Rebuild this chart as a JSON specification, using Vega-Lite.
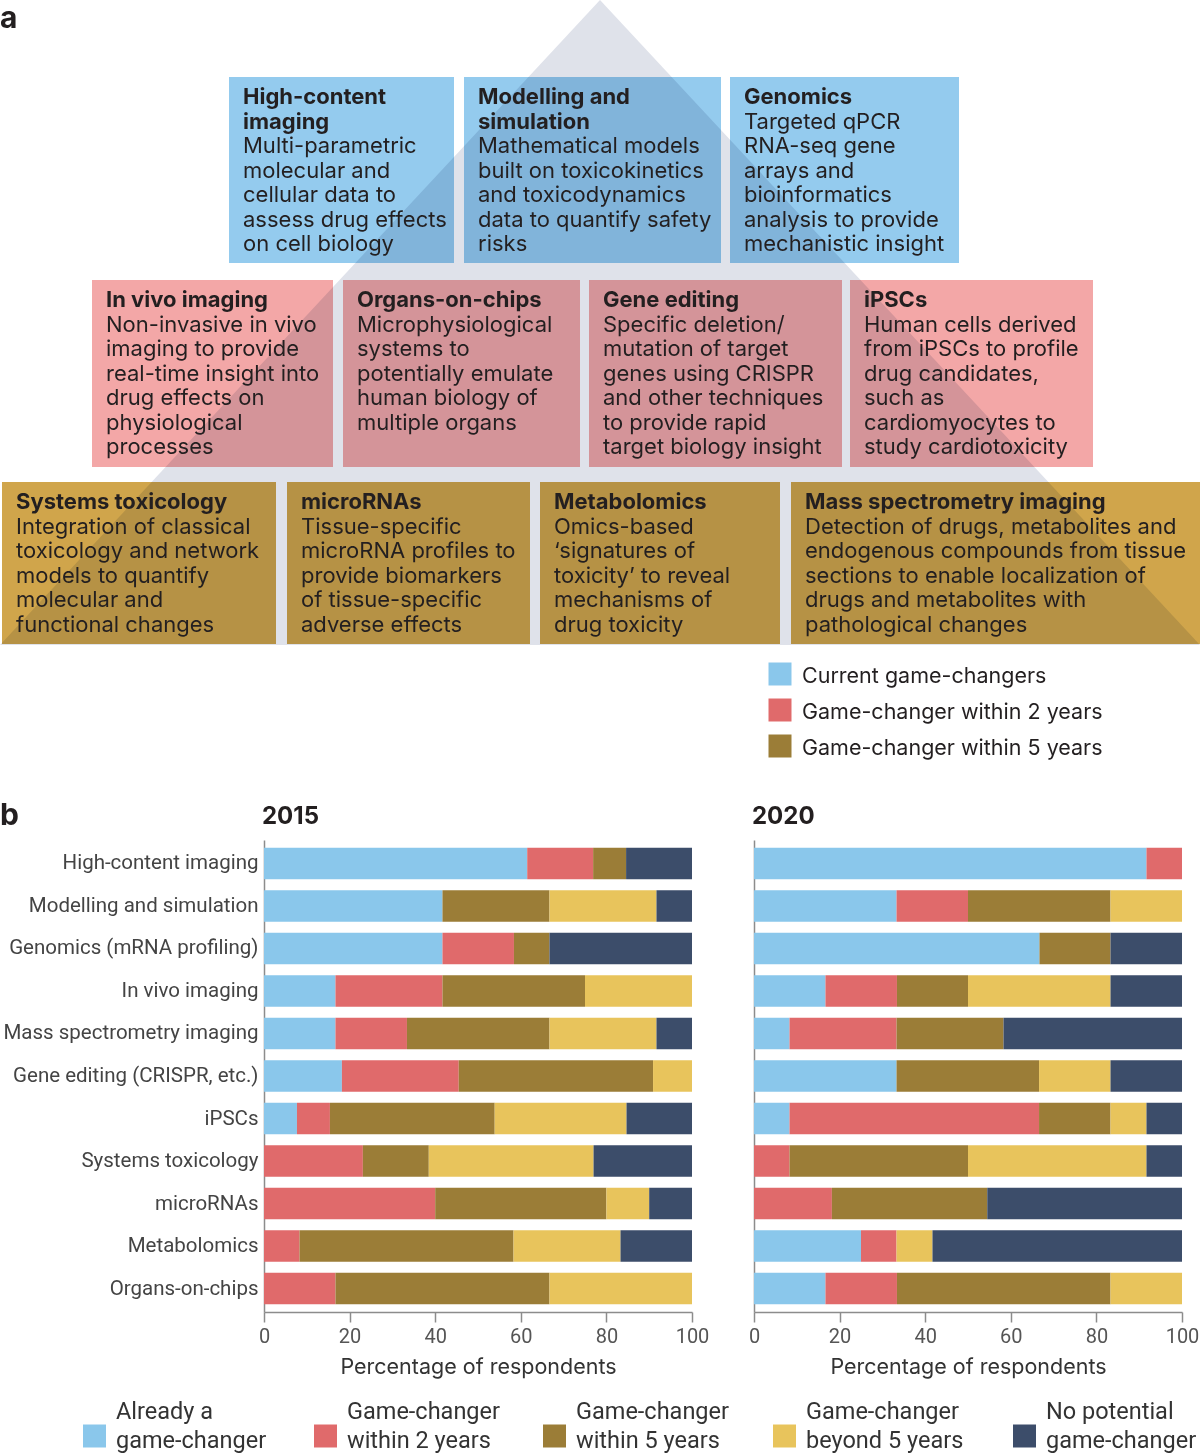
{
  "$schema": "https://vega.github.io/schema/vega-lite/v6.json",
  "padding": 0,
  "background": "white",
  "config": {
    "view": {"stroke": null},
    "font": "Inter",
    "axis": {"labelFont": "Roboto", "titleFont": "Inter"}
  },
  "datasets": {
    "triangle": [
      {"px": 0, "py": 645},
      {"px": 600, "py": 0},
      {"px": 1200, "py": 645}
    ],
    "boxes": [
      {"name": "High-content imaging", "tier": 1, "x0": 229, "x1": 454, "y0": 77, "y1": 263, "title": ["High-content", "imaging"], "body": ["Multi-parametric", "molecular and", "cellular data to", "assess drug effects", "on cell biology"]},
      {"name": "Modelling and simulation", "tier": 1, "x0": 464, "x1": 721, "y0": 77, "y1": 263, "title": ["Modelling and", "simulation"], "body": ["Mathematical models", "built on toxicokinetics", "and toxicodynamics", "data to quantify safety", "risks"]},
      {"name": "Genomics", "tier": 1, "x0": 730, "x1": 959, "y0": 77, "y1": 263, "title": ["Genomics"], "body": ["Targeted qPCR", "RNA-seq gene", "arrays and", "bioinformatics", "analysis to provide", "mechanistic insight"]},
      {"name": "In vivo imaging", "tier": 2, "x0": 92, "x1": 333, "y0": 280, "y1": 467, "title": ["In vivo imaging"], "body": ["Non-invasive in vivo", "imaging to provide", "real-time insight into", "drug effects on", "physiological", "processes"]},
      {"name": "Organs-on-chips", "tier": 2, "x0": 343, "x1": 580, "y0": 280, "y1": 467, "title": ["Organs-on-chips"], "body": ["Microphysiological", "systems to", "potentially emulate", "human biology of", "multiple organs"]},
      {"name": "Gene editing", "tier": 2, "x0": 589, "x1": 842, "y0": 280, "y1": 467, "title": ["Gene editing"], "body": ["Specific deletion/", "mutation of target", "genes using CRISPR", "and other techniques", "to provide rapid", "target biology insight"]},
      {"name": "iPSCs", "tier": 2, "x0": 850, "x1": 1093, "y0": 280, "y1": 467, "title": ["iPSCs"], "body": ["Human cells derived", "from iPSCs to profile", "drug candidates,", "such as", "cardiomyocytes to", "study cardiotoxicity"]},
      {"name": "Systems toxicology", "tier": 3, "x0": 2, "x1": 276, "y0": 482, "y1": 644, "title": ["Systems toxicology"], "body": ["Integration of classical", "toxicology and network", "models to quantify", "molecular and", "functional changes"]},
      {"name": "microRNAs", "tier": 3, "x0": 287, "x1": 530, "y0": 482, "y1": 644, "title": ["microRNAs"], "body": ["Tissue-specific", "microRNA profiles to", "provide biomarkers", "of tissue-specific", "adverse effects"]},
      {"name": "Metabolomics", "tier": 3, "x0": 540, "x1": 780, "y0": 482, "y1": 644, "title": ["Metabolomics"], "body": ["Omics-based", "‘signatures of", "toxicity’ to reveal", "mechanisms of", "drug toxicity"]},
      {"name": "Mass spectrometry imaging", "tier": 3, "x0": 791, "x1": 1200, "y0": 482, "y1": 644, "title": ["Mass spectrometry imaging"], "body": ["Detection of drugs, metabolites and", "endogenous compounds from tissue", "sections to enable localization of", "drugs and metabolites with", "pathological changes"]}
    ],
    "tierKey": [
      {"key": "Current game-changers", "ky": 674},
      {"key": "Game-changer within 2 years", "ky": 710},
      {"key": "Game-changer within 5 years", "ky": 746}
    ],
    "panelLetters": [
      {"lab": "a", "lx": 0, "ly": 28},
      {"lab": "b", "lx": 0, "ly": 825}
    ],
    "years": [
      {"lab": "2015", "lx": 262, "ly": 824},
      {"lab": "2020", "lx": 752, "ly": 824}
    ],
    "y2015": [
      {"technology": "High-content imaging", "response": "Already a game-changer", "level": 1, "percent": 61.5},
      {"technology": "High-content imaging", "response": "Game-changer within 2 years", "level": 2, "percent": 15.4},
      {"technology": "High-content imaging", "response": "Game-changer within 5 years", "level": 3, "percent": 7.7},
      {"technology": "High-content imaging", "response": "No potential game-changer", "level": 5, "percent": 15.4},
      {"technology": "Modelling and simulation", "response": "Already a game-changer", "level": 1, "percent": 41.7},
      {"technology": "Modelling and simulation", "response": "Game-changer within 5 years", "level": 3, "percent": 25},
      {"technology": "Modelling and simulation", "response": "Game-changer beyond 5 years", "level": 4, "percent": 25},
      {"technology": "Modelling and simulation", "response": "No potential game-changer", "level": 5, "percent": 8.3},
      {"technology": "Genomics (mRNA profiling)", "response": "Already a game-changer", "level": 1, "percent": 41.7},
      {"technology": "Genomics (mRNA profiling)", "response": "Game-changer within 2 years", "level": 2, "percent": 16.7},
      {"technology": "Genomics (mRNA profiling)", "response": "Game-changer within 5 years", "level": 3, "percent": 8.3},
      {"technology": "Genomics (mRNA profiling)", "response": "No potential game-changer", "level": 5, "percent": 33.3},
      {"technology": "In vivo imaging", "response": "Already a game-changer", "level": 1, "percent": 16.7},
      {"technology": "In vivo imaging", "response": "Game-changer within 2 years", "level": 2, "percent": 25},
      {"technology": "In vivo imaging", "response": "Game-changer within 5 years", "level": 3, "percent": 33.3},
      {"technology": "In vivo imaging", "response": "Game-changer beyond 5 years", "level": 4, "percent": 25},
      {"technology": "Mass spectrometry imaging", "response": "Already a game-changer", "level": 1, "percent": 16.7},
      {"technology": "Mass spectrometry imaging", "response": "Game-changer within 2 years", "level": 2, "percent": 16.7},
      {"technology": "Mass spectrometry imaging", "response": "Game-changer within 5 years", "level": 3, "percent": 33.3},
      {"technology": "Mass spectrometry imaging", "response": "Game-changer beyond 5 years", "level": 4, "percent": 25},
      {"technology": "Mass spectrometry imaging", "response": "No potential game-changer", "level": 5, "percent": 8.3},
      {"technology": "Gene editing (CRISPR, etc.)", "response": "Already a game-changer", "level": 1, "percent": 18.2},
      {"technology": "Gene editing (CRISPR, etc.)", "response": "Game-changer within 2 years", "level": 2, "percent": 27.3},
      {"technology": "Gene editing (CRISPR, etc.)", "response": "Game-changer within 5 years", "level": 3, "percent": 45.4},
      {"technology": "Gene editing (CRISPR, etc.)", "response": "Game-changer beyond 5 years", "level": 4, "percent": 9.1},
      {"technology": "iPSCs", "response": "Already a game-changer", "level": 1, "percent": 7.7},
      {"technology": "iPSCs", "response": "Game-changer within 2 years", "level": 2, "percent": 7.7},
      {"technology": "iPSCs", "response": "Game-changer within 5 years", "level": 3, "percent": 38.5},
      {"technology": "iPSCs", "response": "Game-changer beyond 5 years", "level": 4, "percent": 30.8},
      {"technology": "iPSCs", "response": "No potential game-changer", "level": 5, "percent": 15.3},
      {"technology": "Systems toxicology", "response": "Game-changer within 2 years", "level": 2, "percent": 23.1},
      {"technology": "Systems toxicology", "response": "Game-changer within 5 years", "level": 3, "percent": 15.4},
      {"technology": "Systems toxicology", "response": "Game-changer beyond 5 years", "level": 4, "percent": 38.5},
      {"technology": "Systems toxicology", "response": "No potential game-changer", "level": 5, "percent": 23},
      {"technology": "microRNAs", "response": "Game-changer within 2 years", "level": 2, "percent": 40},
      {"technology": "microRNAs", "response": "Game-changer within 5 years", "level": 3, "percent": 40},
      {"technology": "microRNAs", "response": "Game-changer beyond 5 years", "level": 4, "percent": 10},
      {"technology": "microRNAs", "response": "No potential game-changer", "level": 5, "percent": 10},
      {"technology": "Metabolomics", "response": "Game-changer within 2 years", "level": 2, "percent": 8.3},
      {"technology": "Metabolomics", "response": "Game-changer within 5 years", "level": 3, "percent": 50},
      {"technology": "Metabolomics", "response": "Game-changer beyond 5 years", "level": 4, "percent": 25},
      {"technology": "Metabolomics", "response": "No potential game-changer", "level": 5, "percent": 16.7},
      {"technology": "Organs-on-chips", "response": "Game-changer within 2 years", "level": 2, "percent": 16.7},
      {"technology": "Organs-on-chips", "response": "Game-changer within 5 years", "level": 3, "percent": 50},
      {"technology": "Organs-on-chips", "response": "Game-changer beyond 5 years", "level": 4, "percent": 33.3}
    ],
    "y2020": [
      {"technology": "High-content imaging", "response": "Already a game-changer", "level": 1, "percent": 91.7},
      {"technology": "High-content imaging", "response": "Game-changer within 2 years", "level": 2, "percent": 8.3},
      {"technology": "Modelling and simulation", "response": "Already a game-changer", "level": 1, "percent": 33.3},
      {"technology": "Modelling and simulation", "response": "Game-changer within 2 years", "level": 2, "percent": 16.7},
      {"technology": "Modelling and simulation", "response": "Game-changer within 5 years", "level": 3, "percent": 33.3},
      {"technology": "Modelling and simulation", "response": "Game-changer beyond 5 years", "level": 4, "percent": 16.7},
      {"technology": "Genomics (mRNA profiling)", "response": "Already a game-changer", "level": 1, "percent": 66.7},
      {"technology": "Genomics (mRNA profiling)", "response": "Game-changer within 5 years", "level": 3, "percent": 16.6},
      {"technology": "Genomics (mRNA profiling)", "response": "No potential game-changer", "level": 5, "percent": 16.7},
      {"technology": "In vivo imaging", "response": "Already a game-changer", "level": 1, "percent": 16.7},
      {"technology": "In vivo imaging", "response": "Game-changer within 2 years", "level": 2, "percent": 16.7},
      {"technology": "In vivo imaging", "response": "Game-changer within 5 years", "level": 3, "percent": 16.6},
      {"technology": "In vivo imaging", "response": "Game-changer beyond 5 years", "level": 4, "percent": 33.3},
      {"technology": "In vivo imaging", "response": "No potential game-changer", "level": 5, "percent": 16.7},
      {"technology": "Mass spectrometry imaging", "response": "Already a game-changer", "level": 1, "percent": 8.3},
      {"technology": "Mass spectrometry imaging", "response": "Game-changer within 2 years", "level": 2, "percent": 25},
      {"technology": "Mass spectrometry imaging", "response": "Game-changer within 5 years", "level": 3, "percent": 25},
      {"technology": "Mass spectrometry imaging", "response": "No potential game-changer", "level": 5, "percent": 41.7},
      {"technology": "Gene editing (CRISPR, etc.)", "response": "Already a game-changer", "level": 1, "percent": 33.3},
      {"technology": "Gene editing (CRISPR, etc.)", "response": "Game-changer within 5 years", "level": 3, "percent": 33.3},
      {"technology": "Gene editing (CRISPR, etc.)", "response": "Game-changer beyond 5 years", "level": 4, "percent": 16.7},
      {"technology": "Gene editing (CRISPR, etc.)", "response": "No potential game-changer", "level": 5, "percent": 16.7},
      {"technology": "iPSCs", "response": "Already a game-changer", "level": 1, "percent": 8.3},
      {"technology": "iPSCs", "response": "Game-changer within 2 years", "level": 2, "percent": 58.3},
      {"technology": "iPSCs", "response": "Game-changer within 5 years", "level": 3, "percent": 16.7},
      {"technology": "iPSCs", "response": "Game-changer beyond 5 years", "level": 4, "percent": 8.4},
      {"technology": "iPSCs", "response": "No potential game-changer", "level": 5, "percent": 8.3},
      {"technology": "Systems toxicology", "response": "Game-changer within 2 years", "level": 2, "percent": 8.3},
      {"technology": "Systems toxicology", "response": "Game-changer within 5 years", "level": 3, "percent": 41.7},
      {"technology": "Systems toxicology", "response": "Game-changer beyond 5 years", "level": 4, "percent": 41.7},
      {"technology": "Systems toxicology", "response": "No potential game-changer", "level": 5, "percent": 8.3},
      {"technology": "microRNAs", "response": "Game-changer within 2 years", "level": 2, "percent": 18.2},
      {"technology": "microRNAs", "response": "Game-changer within 5 years", "level": 3, "percent": 36.3},
      {"technology": "microRNAs", "response": "No potential game-changer", "level": 5, "percent": 45.5},
      {"technology": "Metabolomics", "response": "Already a game-changer", "level": 1, "percent": 25},
      {"technology": "Metabolomics", "response": "Game-changer within 2 years", "level": 2, "percent": 8.3},
      {"technology": "Metabolomics", "response": "Game-changer beyond 5 years", "level": 4, "percent": 8.4},
      {"technology": "Metabolomics", "response": "No potential game-changer", "level": 5, "percent": 58.3},
      {"technology": "Organs-on-chips", "response": "Already a game-changer", "level": 1, "percent": 16.7},
      {"technology": "Organs-on-chips", "response": "Game-changer within 2 years", "level": 2, "percent": 16.7},
      {"technology": "Organs-on-chips", "response": "Game-changer within 5 years", "level": 3, "percent": 49.9},
      {"technology": "Organs-on-chips", "response": "Game-changer beyond 5 years", "level": 4, "percent": 16.7}
    ],
    "responseKey": [
      {"response": "Already a game-changer", "label": ["Already a", "game-changer"], "kx": 94.5},
      {"response": "Game-changer within 2 years", "label": ["Game-changer", "within 2 years"], "kx": 325.5},
      {"response": "Game-changer within 5 years", "label": ["Game-changer", "within 5 years"], "kx": 554.5},
      {"response": "Game-changer beyond 5 years", "label": ["Game-changer", "beyond 5 years"], "kx": 784.5},
      {"response": "No potential game-changer", "label": ["No potential", "game-changer"], "kx": 1024.5}
    ]
  },
  "vconcat": [
    {
      "width": 936,
      "height": 838,
      "resolve": {"scale": {"color": "independent"}},
      "layer": [
        {
          "data": {"name": "triangle"},
          "mark": {"type": "area", "color": "#DFE2EA", "interpolate": "linear"},
          "encoding": {
            "x": {"field": "px", "type": "quantitative", "scale": {"domain": [264, 1200], "nice": false, "zero": false}, "axis": null},
            "y": {"field": "py", "type": "quantitative", "scale": {"domain": [0, 838], "reverse": true, "nice": false, "zero": false}, "axis": null},
            "y2": {"datum": 645}
          }
        },
        {
          "data": {"name": "boxes"},
          "mark": {"type": "rect", "blend": "multiply"},
          "encoding": {
            "x": {"field": "x0", "type": "quantitative", "scale": {"domain": [264, 1200], "nice": false, "zero": false}, "axis": null},
            "x2": {"field": "x1"},
            "y": {"field": "y0", "type": "quantitative", "scale": {"domain": [0, 838], "reverse": true, "nice": false, "zero": false}, "axis": null},
            "y2": {"field": "y1"},
            "color": {"field": "tier", "type": "nominal", "scale": {"domain": [1, 2, 3], "range": ["#94CBEE", "#F3A7A7", "#D0A54B"]}, "legend": null}
          }
        },
        {
          "data": {"name": "boxes"},
          "mark": {"type": "text", "align": "left", "baseline": "top", "dx": 14, "dy": 10, "font": "Inter", "fontSize": 22, "fontWeight": "bold", "lineHeight": 24.5, "color": "#231F20"},
          "encoding": {
            "x": {"field": "x0", "type": "quantitative"},
            "y": {"field": "y0", "type": "quantitative"},
            "text": {"field": "title"}
          }
        },
        {
          "data": {"name": "boxes"},
          "transform": [{"filter": "length(datum.title) == 1"}],
          "mark": {"type": "text", "align": "left", "baseline": "top", "dx": 14, "dy": 34.5, "font": "Inter", "fontSize": 22, "lineHeight": 24.5, "color": "#231F20"},
          "encoding": {
            "x": {"field": "x0", "type": "quantitative"},
            "y": {"field": "y0", "type": "quantitative"},
            "text": {"field": "body"}
          }
        },
        {
          "data": {"name": "boxes"},
          "transform": [{"filter": "length(datum.title) == 2"}],
          "mark": {"type": "text", "align": "left", "baseline": "top", "dx": 14, "dy": 59, "font": "Inter", "fontSize": 22, "lineHeight": 24.5, "color": "#231F20"},
          "encoding": {
            "x": {"field": "x0", "type": "quantitative"},
            "y": {"field": "y0", "type": "quantitative"},
            "text": {"field": "body"}
          }
        },
        {
          "data": {"name": "tierKey"},
          "mark": {"type": "square", "size": 529, "filled": true, "opacity": 1},
          "encoding": {
            "x": {"datum": 780, "type": "quantitative"},
            "y": {"field": "ky", "type": "quantitative"},
            "color": {"field": "key", "type": "nominal", "scale": {"domain": ["Current game-changers", "Game-changer within 2 years", "Game-changer within 5 years"], "range": ["#8AC7EB", "#E06A6B", "#9B7D37"]}, "legend": null}
          }
        },
        {
          "data": {"name": "tierKey"},
          "mark": {"type": "text", "align": "left", "baseline": "middle", "dx": 22, "dy": 3, "font": "Inter", "fontSize": 21.5, "color": "#231F20"},
          "encoding": {
            "x": {"datum": 780, "type": "quantitative"},
            "y": {"field": "ky", "type": "quantitative"},
            "text": {"field": "key"}
          }
        },
        {
          "data": {"name": "panelLetters"},
          "mark": {"type": "text", "align": "left", "baseline": "alphabetic", "font": "Inter", "fontSize": 30, "fontWeight": "bold", "color": "#231F20"},
          "encoding": {
            "x": {"field": "lx", "type": "quantitative"},
            "y": {"field": "ly", "type": "quantitative"},
            "text": {"field": "lab"}
          }
        },
        {
          "data": {"name": "years"},
          "mark": {"type": "text", "align": "left", "baseline": "alphabetic", "font": "Inter", "fontSize": 24, "fontWeight": "bold", "color": "#231F20"},
          "encoding": {
            "x": {"field": "lx", "type": "quantitative"},
            "y": {"field": "ly", "type": "quantitative"},
            "text": {"field": "lab"}
          }
        }
      ]
    },
    {
      "hconcat": [
        {
          "width": 428,
          "height": 472,
          "data": {"name": "y2015"},
          "mark": {"type": "bar"},
          "encoding": {
            "y": {
              "field": "technology", "type": "nominal",
              "sort": ["High-content imaging", "Modelling and simulation", "Genomics (mRNA profiling)", "In vivo imaging", "Mass spectrometry imaging", "Gene editing (CRISPR, etc.)", "iPSCs", "Systems toxicology", "microRNAs", "Metabolomics", "Organs-on-chips"],
              "scale": {"paddingInner": 0.255, "paddingOuter": 0.18},
              "axis": {"title": null, "ticks": false, "labelFontSize": 20.5, "labelColor": "#444444", "labelPadding": 6, "labelLimit": 400, "domainColor": "#8c8c8c", "domainWidth": 1.5}
            },
            "x": {
              "field": "percent", "type": "quantitative", "stack": "zero",
              "scale": {"domain": [0, 100], "nice": false},
              "axis": {"values": [0, 20, 40, 60, 80, 100], "title": "Percentage of respondents", "grid": false, "tickSize": 10, "tickColor": "#8c8c8c", "tickWidth": 1.5, "domainColor": "#8c8c8c", "domainWidth": 1.5, "labelFontSize": 20, "labelColor": "#555555", "labelPadding": 4, "labelFlush": false, "titleFontSize": 21.5, "titleFontWeight": "normal", "titleColor": "#333333", "titlePadding": 10}
            },
            "color": {"field": "response", "type": "nominal", "scale": {"domain": ["Already a game-changer", "Game-changer within 2 years", "Game-changer within 5 years", "Game-changer beyond 5 years", "No potential game-changer"], "range": ["#8AC7EB", "#E06A6B", "#9B7D37", "#E8C45C", "#3C4D6A"]}, "legend": null},
            "order": {"field": "level", "type": "quantitative"}
          }
        },
        {
          "width": 428,
          "height": 472,
          "data": {"name": "y2020"},
          "mark": {"type": "bar"},
          "encoding": {
            "y": {
              "field": "technology", "type": "nominal",
              "sort": ["High-content imaging", "Modelling and simulation", "Genomics (mRNA profiling)", "In vivo imaging", "Mass spectrometry imaging", "Gene editing (CRISPR, etc.)", "iPSCs", "Systems toxicology", "microRNAs", "Metabolomics", "Organs-on-chips"],
              "scale": {"paddingInner": 0.255, "paddingOuter": 0.18},
              "axis": {"title": null, "ticks": false, "labels": false, "domainColor": "#8c8c8c", "domainWidth": 1.5}
            },
            "x": {
              "field": "percent", "type": "quantitative", "stack": "zero",
              "scale": {"domain": [0, 100], "nice": false},
              "axis": {"values": [0, 20, 40, 60, 80, 100], "title": "Percentage of respondents", "grid": false, "tickSize": 10, "tickColor": "#8c8c8c", "tickWidth": 1.5, "domainColor": "#8c8c8c", "domainWidth": 1.5, "labelFontSize": 20, "labelColor": "#555555", "labelPadding": 4, "labelFlush": false, "titleFontSize": 21.5, "titleFontWeight": "normal", "titleColor": "#333333", "titlePadding": 10}
            },
            "color": {"field": "response", "type": "nominal", "scale": {"domain": ["Already a game-changer", "Game-changer within 2 years", "Game-changer within 5 years", "Game-changer beyond 5 years", "No potential game-changer"], "range": ["#8AC7EB", "#E06A6B", "#9B7D37", "#E8C45C", "#3C4D6A"]}, "legend": null},
            "order": {"field": "level", "type": "quantitative"}
          }
        }
      ],
      "spacing": 62,
      "bounds": "flush"
    },
    {
      "width": 936,
      "height": 73,
      "data": {"name": "responseKey"},
      "layer": [
        {
          "mark": {"type": "square", "size": 529, "filled": true, "opacity": 1},
          "encoding": {
            "x": {"field": "kx", "type": "quantitative", "scale": {"domain": [264, 1200], "nice": false, "zero": false}, "axis": null},
            "y": {"datum": 56, "type": "quantitative", "scale": {"domain": [0, 73], "reverse": true, "nice": false, "zero": false}, "axis": null},
            "color": {"field": "response", "type": "nominal", "scale": {"domain": ["Already a game-changer", "Game-changer within 2 years", "Game-changer within 5 years", "Game-changer beyond 5 years", "No potential game-changer"], "range": ["#8AC7EB", "#E06A6B", "#9B7D37", "#E8C45C", "#3C4D6A"]}, "legend": null}
          }
        },
        {
          "mark": {"type": "text", "align": "left", "baseline": "top", "dx": 21.5, "font": "Roboto", "fontSize": 23.5, "lineHeight": 29, "color": "#333333"},
          "encoding": {
            "x": {"field": "kx", "type": "quantitative"},
            "y": {"datum": 20, "type": "quantitative"},
            "text": {"field": "label"}
          }
        }
      ]
    }
  ],
  "spacing": 2
}
